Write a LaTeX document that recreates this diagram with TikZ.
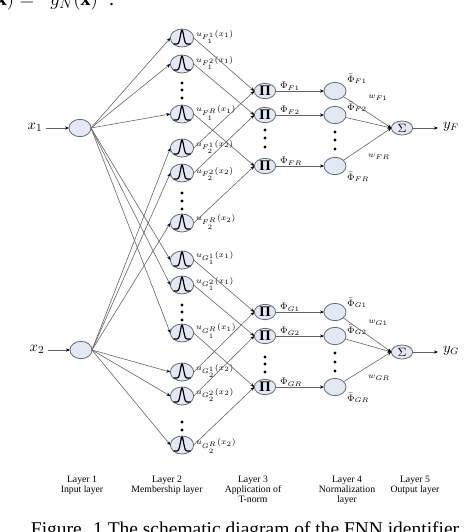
\documentclass[tikz,border=0pt]{standalone}
\usepackage{fontspec}
\setmainfont{Liberation Serif}
\usetikzlibrary{shapes.geometric,arrows.meta}
\definecolor{nodefill}{RGB}{226,233,244}
\definecolor{nodedraw}{RGB}{95,108,125}
\definecolor{wirecol}{RGB}{100,100,100}
\newcommand\bellin[1]{\draw[line width=0.9pt,black,shift={(#1.center)}] plot[domain=-8.5:8.5,samples=35,smooth] (\x,{6-14*exp(-(\x)^2/5)});}
\begin{document}
\begin{tikzpicture}[x=0.75pt,y=-0.75pt,
  every node/.style={inner sep=0pt,outer sep=0pt},
  cell/.style={ellipse,draw=nodedraw,fill=nodefill,line width=0.6pt},
  inbox/.style={cell,minimum width=16.5pt,minimum height=13pt},
  mfbox/.style={cell,minimum width=17.5pt,minimum height=13.5pt},
  prodbox/.style={cell,minimum width=16pt,minimum height=11.5pt},
  normbox/.style={cell,minimum width=16.5pt,minimum height=13pt},
  sumbox/.style={cell,minimum width=16pt,minimum height=10.5pt},
  wire/.style={draw=wirecol,line width=0.45pt,-{Stealth[length=3pt,width=2.4pt,color=black]}},
  lbl/.style={font=\fontsize{6.5}{7}\selectfont},
  philbl/.style={font=\fontsize{7.5}{8}\selectfont},
  layerlbl/.style={font=\fontsize{7.3}{7.6}\selectfont,align=center,anchor=north},
  dotmark/.style={circle,fill=black,minimum size=2.6pt}
]
\useasboundingbox (0,0) rectangle (474,532);
% fragments of surrounding text
\node[anchor=base west,font=\fontsize{15}{15}\selectfont] (topfrag) at (-3,5) {$\mathbf{x})=\;\;g_N(\mathbf{x})'$\,\,.};
\node[anchor=base west,font=\fontsize{14.6}{14.6}\selectfont] (caption) at (31,535) {Figure. 1 The schematic diagram of the FNN identifier};

% layer 1
\node[inbox] (x1) at (80,128) {};
\node[inbox] (x2) at (81,350) {};
\node[font=\fontsize{11}{11}\selectfont] (lx1) at (35,127) {$x_1$};
\node[font=\fontsize{11}{11}\selectfont] (lx2) at (37,349) {$x_2$};
\coordinate (ix1) at (46,128);
\coordinate (ix2) at (48,350);
\draw[wire] (ix1) -- (x1.west);
\draw[wire] (ix2) -- (x2.west);

% layer 2
\foreach \n/\yy in {F11/38,F12/64,F1R/114,F21/148,F22/173,F2R/223,G11/260,G12/285,G1R/333,G21/372,G22/396,G2R/445}{
  \node[mfbox] (\n) at (182,\yy) {};
  \bellin{\n}
}
\node[lbl,anchor=west] (uF11) at (196,37) {$u_{F_1^1}(x_1)$};
\node[lbl,anchor=west] (uF12) at (196,63) {$u_{F_1^2}(x_1)$};
\node[lbl,anchor=west] (uF1R) at (196,113) {$u_{F_1^R}(x_1)$};
\node[lbl,anchor=west] (uF21) at (196,147) {$u_{F_2^1}(x_2)$};
\node[lbl,anchor=west] (uF22) at (196,174) {$u_{F_2^2}(x_2)$};
\node[lbl,anchor=west] (uF2R) at (196,222) {$u_{F_2^R}(x_2)$};
\node[lbl,anchor=west] (uG11) at (196,258) {$u_{G_1^1}(x_1)$};
\node[lbl,anchor=west] (uG12) at (196,284) {$u_{G_1^2}(x_1)$};
\node[lbl,anchor=west] (uG1R) at (196,331) {$u_{G_1^R}(x_1)$};
\node[lbl,anchor=west] (uG21) at (196,371) {$u_{G_2^1}(x_2)$};
\node[lbl,anchor=west] (uG22) at (196,395) {$u_{G_2^2}(x_2)$};
\node[lbl,anchor=west] (uG2R) at (196,446) {$u_{G_2^R}(x_2)$};

% layer 3
\foreach \n/\yy in {PF1/91,PF2/115,PFR/166,PG1/312,PG2/336,PGR/387}{
  \node[prodbox,font=\bfseries\fontsize{11}{11}\selectfont] (\n) at (265,\yy) {Π};
}
\node[philbl,anchor=south west] (phF1) at (280,90) {$\Phi_{F1}$};
\node[philbl,anchor=south west] (phF2) at (280,114) {$\Phi_{F2}$};
\node[philbl,anchor=south west] (phFR) at (280,165) {$\Phi_{FR}$};
\node[philbl,anchor=south west] (phG1) at (280,311) {$\Phi_{G1}$};
\node[philbl,anchor=south west] (phG2) at (280,335) {$\Phi_{G2}$};
\node[philbl,anchor=south west] (phGR) at (280,386) {$\Phi_{GR}$};

% layer 4
\foreach \n/\yy in {NF1/91,NF2/115,NFR/166,NG1/312,NG2/336,NGR/387}{
  \node[normbox] (\n) at (335,\yy) {};
}
\node[philbl,anchor=west] (bF1) at (347,79) {$\bar{\Phi}_{F1}$};
\node[philbl,anchor=west] (bF2) at (347,107) {$\bar{\Phi}_{F2}$};
\node[philbl,anchor=west] (bFR) at (347,177) {$\bar{\Phi}_{FR}$};
\node[philbl,anchor=west] (bG1) at (347,303) {$\bar{\Phi}_{G1}$};
\node[philbl,anchor=west] (bG2) at (347,330) {$\bar{\Phi}_{G2}$};
\node[philbl,anchor=west] (bGR) at (347,398) {$\bar{\Phi}_{GR}$};
\node[lbl] (wF1) at (378,98) {$w_{F1}$};
\node[lbl] (wFR) at (379,157) {$w_{FR}$};
\node[lbl] (wG1) at (378,323) {$w_{G1}$};
\node[lbl] (wGR) at (379,378) {$w_{GR}$};

% layer 5
\node[sumbox,font=\fontsize{9}{9}\selectfont] (SF) at (402,128) {$\Sigma$};
\node[sumbox,font=\fontsize{9}{9}\selectfont] (SG) at (402,352) {$\Sigma$};
\coordinate (oF) at (438,128);
\coordinate (oG) at (438,352);
\node[font=\fontsize{10.5}{10.5}\selectfont,anchor=west] (yF) at (443,127) {$y_F$};
\node[font=\fontsize{10.5}{10.5}\selectfont,anchor=west] (yG) at (443,351) {$y_G$};

% dots
\foreach \xx/\yy in {182/83,182/90,182/98,182/193,182/201,182/209,182/305,182/312,182/320,182/422,182/430,182/438,
                     265/130,265/138,265/147,265/357,265/364,265/372,
                     335/132,335/140,335/149,335/353,335/362,335/371}{
  \node[dotmark] at (\xx,\yy) {};
}

% connections layer1 -> layer2
\foreach \t in {F11,F12,F1R,G11,G12,G1R} \draw[wire] (x1.east) -- (\t.west);
\foreach \t in {F21,F22,F2R,G21,G22,G2R} \draw[wire] (x2.east) -- (\t.west);
% layer2 -> layer3
\foreach \s/\t in {F11/PF1,F21/PF1,F12/PF2,F22/PF2,F1R/PFR,F2R/PFR,G11/PG1,G21/PG1,G12/PG2,G22/PG2,G1R/PGR,G2R/PGR}
  \draw[wire] (\s.east) -- (\t.west);
% layer3 -> layer4
\foreach \s/\t in {PF1/NF1,PF2/NF2,PFR/NFR,PG1/NG1,PG2/NG2,PGR/NGR}
  \draw[wire] (\s.east) -- (\t.west);
% layer4 -> layer5
\foreach \s in {NF1,NF2,NFR} \draw[wire] (\s) -- (SF.west);
\foreach \s in {NG1,NG2,NGR} \draw[wire] (\s) -- (SG.west);
\draw[wire] (SF.east) -- (oF);
\draw[wire] (SG.east) -- (oG);

% layer captions
\node[layerlbl] (L1) at (82,476) {Layer 1\\Input layer};
\node[layerlbl] (L2) at (167,476) {Layer 2\\Membership layer};
\node[layerlbl] (L3) at (253,476) {Layer 3\\Application of\\T-norm};
\node[layerlbl] (L4) at (347,476) {Layer 4\\Normalization\\layer};
\node[layerlbl] (L5) at (415,476) {Layer 5\\Output layer};
\end{tikzpicture}
\end{document}
